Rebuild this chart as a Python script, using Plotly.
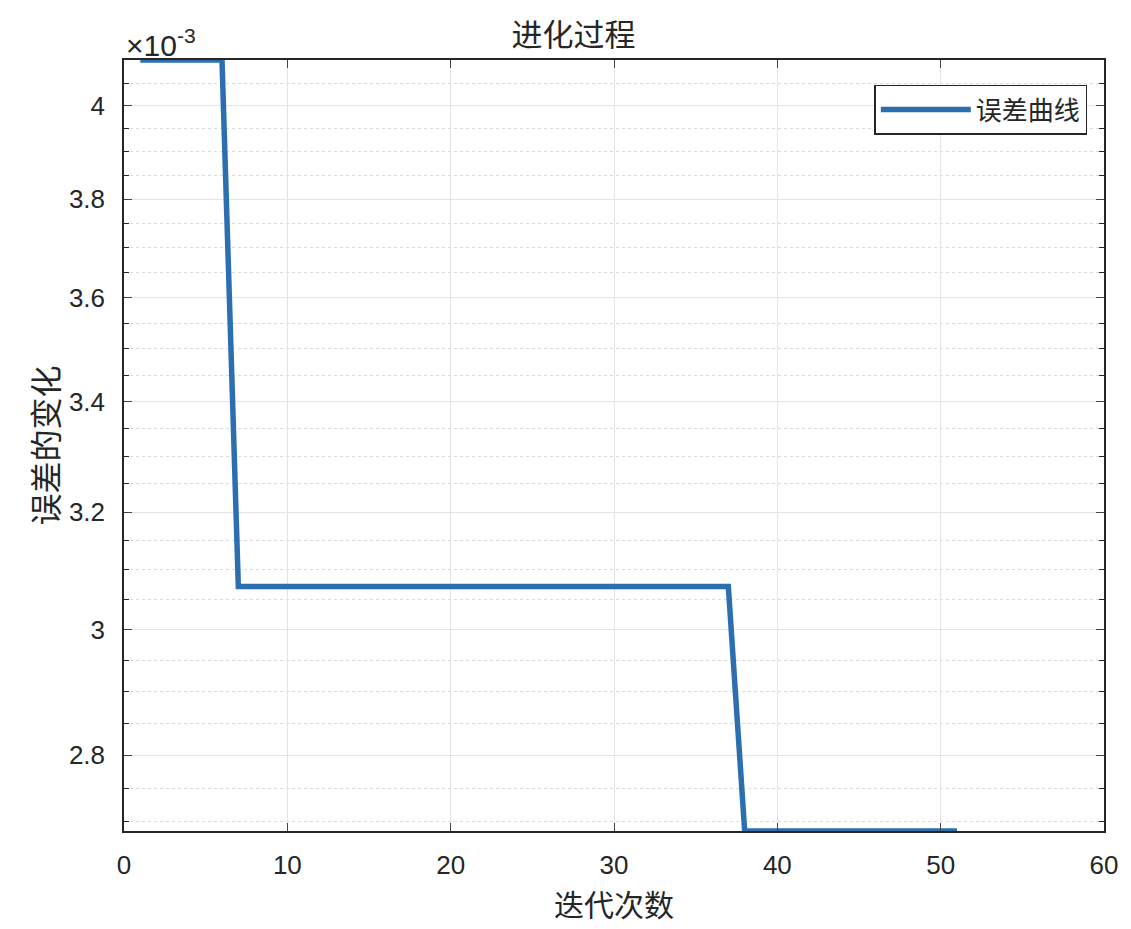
import math
import plotly.graph_objects as go

# 迭代数据
iterations = list(range(1, 52))
error_values = [0.004102] * 6 + [0.003072] * 31 + [0.002686] * 14

x_ticks = [0, 10, 20, 30, 40, 50, 60]
y_ticks = [0.0028, 0.0030, 0.0032, 0.0034, 0.0036, 0.0038, 0.0040]
y_tick_labels = ["2.8", "3", "3.2", "3.4", "3.6", "3.8", "4"]
y_minor = [0.0027, 0.00275, 0.00285, 0.0029, 0.00295, 0.00305, 0.0031, 0.00315,
           0.00325, 0.0033, 0.00335, 0.00345, 0.0035, 0.00355, 0.00365, 0.0037,
           0.00375, 0.00385, 0.0039, 0.00395, 0.00405, 0.0041]

LINE_COLOR = "#2b6fb1"
AXIS_COLOR = "#262626"
CN_FONT = "Noto Sans CJK SC, sans-serif"
NUM_FONT = "Liberation Sans, Arial, sans-serif"

fig = go.Figure(go.Scatter(
    x=iterations, y=error_values, mode="lines", name="误差曲线",
    line=dict(color=LINE_COLOR, width=5.5),
))

fig.update_layout(
    width=1131, height=929,
    plot_bgcolor="white", paper_bgcolor="white",
    margin=dict(l=116, r=35, t=52, b=106),
    title=dict(text="进化过程", x=0.5, xanchor="center", y=0.971, yanchor="middle",
               font=dict(family=CN_FONT, size=31, color="#262626")),
    showlegend=True,
    legend=dict(x=0.983, y=0.968, xanchor="right", yanchor="top",
                bgcolor="white", bordercolor=AXIS_COLOR, borderwidth=1.5,
                itemwidth=90,
                font=dict(family=CN_FONT, size=26, color="#262626")),
    font=dict(family=NUM_FONT, color="#262626"),
)

fig.update_xaxes(
    range=[0, 60], tickvals=x_ticks, ticks="inside", ticklen=8,
    ticklabelstandoff=10,
    tickfont=dict(family=NUM_FONT, size=26, color="#262626"),
    showline=True, linecolor=AXIS_COLOR, linewidth=1.5, mirror="ticks",
    showgrid=True, gridcolor="#e3e3e3", gridwidth=1, zeroline=False,
    title=dict(text="迭代次数", font=dict(family=CN_FONT, size=30, color="#262626"), standoff=16),
)

fig.update_yaxes(
    type="log", range=[math.log10(0.002686), math.log10(0.004102)],
    tickmode="array", tickvals=y_ticks, ticktext=y_tick_labels,
    ticks="inside", ticklen=8, ticklabelstandoff=12,
    tickfont=dict(family=NUM_FONT, size=26, color="#262626"),
    showline=True, linecolor=AXIS_COLOR, linewidth=1.5, mirror="ticks",
    showgrid=True, gridcolor="#e3e3e3", gridwidth=1, zeroline=False,
    minor=dict(tickmode="array", tickvals=y_minor, ticks="inside", ticklen=5,
               tickcolor=AXIS_COLOR, showgrid=True, gridcolor="#dadada",
               griddash="dot", gridwidth=1),
    title=dict(text="误差的变化", font=dict(family=CN_FONT, size=32, color="#262626"), standoff=1),
)

fig.add_annotation(
    x=0, y=1, xref="paper", yref="paper", xanchor="left", yanchor="bottom",
    text="×10<sup>-3</sup>", showarrow=False, yshift=-4,
    font=dict(family=NUM_FONT, size=30, color="#262626"),
)

fig.write_html("out.html")
